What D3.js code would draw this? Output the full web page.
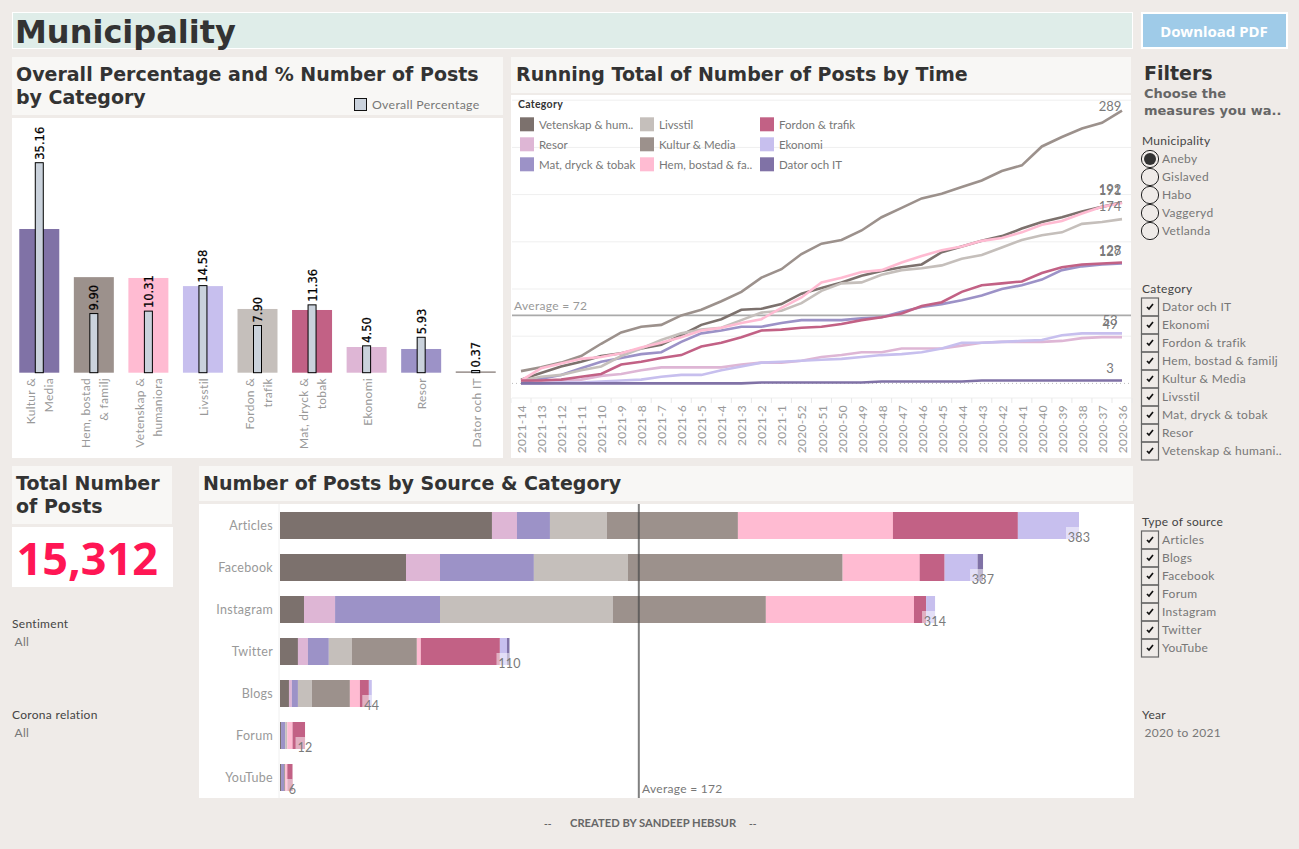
<!DOCTYPE html>
<html><head><meta charset="utf-8">
<script src="https://cdn.jsdelivr.net/npm/d3@7/dist/d3.min.js"></script>
<style>
html,body{margin:0;padding:0;background:#EFEBE8;overflow:hidden}
svg{display:block}
text{font-family:Lato,"Open Sans",sans-serif;letter-spacing:.3px}
.h{font-family:"DejaVu Sans",sans-serif;font-weight:700;letter-spacing:0}
.n{letter-spacing:0}
</style></head><body><svg id="c" width="1299" height="849"></svg>
<script>
const colors={"Vetenskap & humaniora":"#7C716D","Resor":"#DEB6D5","Mat, dryck & tobak":"#9C92C7","Livsstil":"#C5BFBB","Kultur & Media":"#9C918C","Hem, bostad & familj":"#FFBBD2","Fordon & trafik":"#C26185","Ekonomi":"#C7BFEE","Dator och IT":"#8072A6"};
const seriesOrder=["Vetenskap & humaniora","Resor","Mat, dryck & tobak","Livsstil","Kultur & Media","Hem, bostad & familj","Fordon & trafik","Ekonomi","Dator och IT"];
const legendLabels=["Vetenskap & hum..","Resor","Mat, dryck & tobak","Livsstil","Kultur & Media","Hem, bostad & fa..","Fordon & trafik","Ekonomi","Dator och IT"];

// top-left chart
const pctCats=["Kultur & Media","Hem, bostad & familj","Vetenskap & humaniora","Livsstil","Fordon & trafik","Mat, dryck & tobak","Ekonomi","Resor","Dator och IT"];
const pctLabels=[["Kultur &","Media"],["Hem, bostad","& familj"],["Vetenskap &","humaniora"],["Livsstil"],["Fordon &","trafik"],["Mat, dryck &","tobak"],["Ekonomi"],["Resor"],["Dator och IT"]];
const pctBarColorKeys=["Dator och IT","Kultur & Media","Hem, bostad & familj","Ekonomi","Livsstil","Fordon & trafik","Resor","Mat, dryck & tobak","Vetenskap & humaniora"];
const pctPosts=[24.06,16.0,15.86,14.5,10.67,10.5,4.3,3.97,0.2];
const overallPct=[35.16,9.90,10.31,14.58,7.90,11.36,4.50,5.93,0.37];

// running totals
const weeks=["2021-14","2021-13","2021-12","2021-11","2021-10","2021-9","2021-8","2021-7","2021-6","2021-5","2021-4","2021-3","2021-2","2021-1","2020-52","2020-51","2020-50","2020-49","2020-48","2020-47","2020-46","2020-45","2020-44","2020-43","2020-42","2020-41","2020-40","2020-39","2020-38","2020-37","2020-36"];
const runVetenskap=[4,11,18,23,29,32,37,41,51,62,68,78,79,84,95,101,107,114,119,123,126,139,145,151,156,164,171,176,182,187,192];
const runResor=[2,3,3,4,8,10,14,17,17,17,17,20,22,22,24,28,30,33,33,37,37,37,40,43,44,44,44,45,48,49,49];
const runMat=[1,5,9,16,23,27,31,33,44,53,56,60,60,64,67,67,67,69,70,76,81,84,88,93,100,104,110,120,124,126,127];
const runLivsstil=[3,7,9,14,18,29,37,46,53,57,59,67,75,77,85,98,106,107,115,120,122,125,132,136,144,152,157,160,169,171,174];
const runKultur=[13,17,22,29,42,54,60,62,72,78,87,97,112,121,137,148,152,162,176,186,196,201,208,215,225,231,251,261,270,276,289];
const runHem=[3,16,21,26,28,32,38,43,49,56,59,64,68,80,91,107,112,118,120,128,135,141,145,151,154,160,168,172,180,187,191];
const runFordon=[3,3,4,7,10,20,23,27,30,39,43,49,56,57,59,60,63,67,70,74,82,86,97,104,106,108,117,123,126,127,128];
const runEkonomi=[0,0,1,1,2,3,4,7,9,9,14,18,22,23,24,25,26,28,30,31,33,37,43,43,44,45,46,51,53,53,53];
const runDator=[0,0,0,0,0,0,0,0,0,0,0,0,1,1,1,1,1,1,2,2,2,2,2,3,3,3,3,3,3,3,3];
const runSeries=[runVetenskap,runResor,runMat,runLivsstil,runKultur,runHem,runFordon,runEkonomi,runDator];
const runAverage=72;
const yTicks=[0,50,100,150,200,250,300];

// stacked bars: columns follow seriesOrder
const sources=["Articles","Facebook","Instagram","Twitter","Blogs","Forum","YouTube"];
const srcVetenskap=[101.6,60.4,11.5,8.6,4.3,0.5,0.5];
const srcResor=[12,16.3,14.9,4.8,1.4,0,0];
const srcMat=[15.8,45,50.3,10,2.9,2,1.5];
const srcLivsstil=[27.3,45,82.9,11,6.7,1,0];
const srcKultur=[62.8,103,73.3,31.2,18.2,0,0.5];
const srcHem=[74.3,36.9,71,1.9,4.8,2.5,1];
const srcFordon=[59.9,12,5.8,37.9,4.3,6,2.5];
const srcEkonomi=[29.3,15.8,4.3,3.4,1.4,0,0];
const srcDator=[0,2.6,0,1.2,0,0,0];
const srcSeries=[srcVetenskap,srcResor,srcMat,srcLivsstil,srcKultur,srcHem,srcFordon,srcEkonomi,srcDator];
const srcTotals=[383,337,314,110,44,12,6];
const srcAverage=172;

const municipalities=["Aneby","Gislaved","Habo","Vaggeryd","Vetlanda"];
const filterCats=["Dator och IT","Ekonomi","Fordon & trafik","Hem, bostad & familj","Kultur & Media","Livsstil","Mat, dryck & tobak","Resor","Vetenskap & humani.."];
const sourceFilter=["Articles","Blogs","Facebook","Forum","Instagram","Twitter","YouTube"];

const svg=d3.select("#c");
const GREY="#999";
function rect(x,y,w,h,f){return svg.append("rect").attr("x",x).attr("y",y).attr("width",w).attr("height",h).attr("fill",f);}
function txt(x,y,s,size,fill,extra){const t=svg.append("text").attr("x",x).attr("y",y).text(s).attr("font-size",size).attr("fill",fill);if(extra)t.attr("class",extra);return t;}

// header
rect(12.5,12.5,1120,36,"#DFEDE9").attr("stroke","#fff").attr("stroke-width",1);
txt(15,43,"Municipality",32,"#333","h");
rect(1142,13,145,35,"#9FCBE8").attr("stroke","#fff").attr("stroke-width",2);
txt(1214,37,"Download PDF",15,"#fff","n").attr("text-anchor","middle").style("font-family","Noto Sans").style("font-weight",700);

// panels
rect(12,57,491,58,"#F8F7F5"); rect(12,118,491,340,"#fff");
rect(511,57,620,36,"#F8F7F5"); rect(511,95,620,363,"#fff");
rect(12,466,160,58,"#F8F7F5"); rect(12,527,161,60,"#fff");
rect(199,466,934,35,"#F8F7F5"); rect(199,504,935,294,"#fff");

// titles
txt(16,81,"Overall Percentage and % Number of Posts",19,"#333","h");
txt(16,104,"by Category",19,"#333","h");
txt(516,81,"Running Total of Number of Posts by Time",19,"#333","h");
txt(16,490,"Total Number",19,"#333","h");
txt(16,513,"of Posts",19,"#333","h");
txt(203,490,"Number of Posts by Source & Category",19,"#333","h");
txt(16.5,575,d3.format(",")(15312),45,"#FF1654","n").style("font-family","Noto Sans").style("font-weight",700);

// legend overall
rect(354.5,98.5,12,12,"#CAD2DC").attr("stroke","#111").attr("stroke-width",1);
txt(372,109,"Overall Percentage",12.3,"#777");

// ---- percentage chart
const xP=d3.scaleBand().domain(pctCats).range([12,503]).paddingInner(.267).paddingOuter(.1335);
const yP=d3.scaleLinear().domain([0,35.16]).range([372.7,162.7]);
svg.append("g").selectAll("rect").data(pctCats).join("rect")
 .attr("x",d=>xP(d)).attr("width",xP.bandwidth())
 .attr("y",(d,i)=>yP(pctPosts[i])).attr("height",(d,i)=>yP(0)-yP(pctPosts[i]))
 .attr("fill",(d,i)=>colors[pctBarColorKeys[i]]);
svg.append("g").selectAll("rect").data(pctCats).join("rect")
 .attr("x",d=>xP(d)+xP.bandwidth()/2-4).attr("width",8)
 .attr("y",(d,i)=>yP(overallPct[i])).attr("height",(d,i)=>yP(0)-yP(overallPct[i]))
 .attr("fill","#CAD2DC").attr("stroke","#000").attr("stroke-width",1);
svg.append("g").selectAll("text").data(pctCats).join("text").attr("class","n")
 .attr("transform",(d,i)=>`translate(${xP(d)+xP.bandwidth()/2+4.5},${yP(overallPct[i])-3}) rotate(-90)`)
 .text((d,i)=>overallPct[i].toFixed(2))
 .attr("font-size",11.5).attr("fill","#000").style("font-family","DejaVu Sans").attr("stroke","#000").attr("stroke-width",.25);
pctCats.forEach((c,i)=>{
  const ls=pctLabels[i],cx=xP(c)+xP.bandwidth()/2;
  ls.forEach((l,j)=>{
    const off=ls.length===2?(j===0?-9:9):0;
    svg.append("text").attr("transform",`translate(${cx+off+5},378) rotate(-90)`).attr("text-anchor","end").text(l).attr("font-size",12).attr("fill",GREY);
  });
});

// ---- line chart
const xL=d3.scalePoint().domain(weeks).range([521,1122]);
const yL=d3.scaleLinear().domain([0,300]).range([383.4,100.2]);
const gg=svg.append("g");
gg.selectAll("line").data(yTicks.filter(d=>d>0)).join("line").attr("x1",512).attr("x2",1131).attr("y1",d=>yL(d)).attr("y2",d=>yL(d)).attr("stroke","#efefef");
gg.append("line").attr("x1",512).attr("x2",1131).attr("y1",yL(0)).attr("y2",yL(0)).attr("stroke","#bbb").attr("stroke-dasharray","1 3");
const step=xL.step();
gg.append("line").attr("x1",512).attr("x2",1131).attr("y1",398).attr("y2",398).attr("stroke","#efefef");
gg.selectAll("line.t").data(d3.range(weeks.length+1)).join("line").attr("class","t")
 .attr("x1",i=>521+(i-.5)*step).attr("x2",i=>521+(i-.5)*step).attr("y1",398).attr("y2",403).attr("stroke","#e8e8e8");
const line=d3.line().x((d,i)=>xL(weeks[i])).y(d=>yL(d));
svg.append("line").attr("x1",512).attr("x2",1131).attr("y1",yL(runAverage)).attr("y2",yL(runAverage)).attr("stroke","#aaa").attr("stroke-width",1.8);
txt(514,310,"Average = "+runAverage,12,GREY);
svg.append("g").selectAll("path").data(runSeries).join("path").attr("d",line).attr("fill","none").attr("stroke",(d,i)=>colors[seriesOrder[i]]).attr("stroke-width",2.6);
svg.append("g").selectAll("text").data(runSeries).join("text").attr("class","n")
 .attr("x",1110).attr("y",d=>Math.max(yL(d[d.length-1])-8,111)).attr("text-anchor","middle")
 .text(d=>d[d.length-1]).attr("font-size",13).attr("fill","#7a7a7a");
svg.append("g").selectAll("text").data(weeks).join("text")
 .attr("transform",d=>`translate(${xL(d)+5},405) rotate(-90)`).attr("text-anchor","end")
 .text(d=>d).attr("font-size",12).attr("fill",GREY);
// line legend
txt(518,108,"Category",10.5,"#333").style("font-weight",700);
seriesOrder.forEach((s,i)=>{
  const col=Math.floor(i/3),row=i%3,x=520+col*120,y=117.3+row*20;
  rect(x,y,14,14,colors[s]);
  txt(x+19,y+12,legendLabels[i],11.5,"#777","n");
});

// ---- stacked bars
const xB=d3.scaleLinear().domain([0,383]).range([280,1079]);
const yB=d3.scaleBand().domain(sources).range([504.5,798.5]).paddingInner(15/42).paddingOuter(15/84);
const stackData=sources.map((s,i)=>{const o={source:s};seriesOrder.forEach((c,k)=>o[c]=srcSeries[k][i]);return o;});
const stacked=d3.stack().keys(seriesOrder)(stackData);
svg.append("g").selectAll("g").data(stacked).join("g").attr("fill",d=>colors[d.key])
 .selectAll("rect").data(d=>d).join("rect")
 .attr("x",d=>xB(d[0])).attr("width",d=>xB(d[1])-xB(d[0]))
 .attr("y",d=>yB(d.data.source)).attr("height",yB.bandwidth());
svg.append("line").attr("x1",279).attr("x2",279).attr("y1",504).attr("y2",798).attr("stroke","#f0f0f0");
sources.forEach((s,i)=>{
  txt(273,yB(s)+yB.bandwidth()/2+4.5,s,12.5,GREY).attr("text-anchor","end");
  const e=xB(srcTotals[i]),d=String(srcTotals[i]).length,bottom=yB(s)+yB.bandwidth();
  rect(e-3.5*d-2.5,bottom-12,3.5*d+2.5,12,"#fff").attr("opacity",.5);
  txt(e,bottom+3,srcTotals[i],12.5,"#7a7a7a").attr("text-anchor","middle");
});
svg.append("line").attr("x1",xB(srcAverage)).attr("x2",xB(srcAverage)).attr("y1",504).attr("y2",798).attr("stroke","#4a4a4a").attr("stroke-opacity",.7).attr("stroke-width",2);
txt(642,793,"Average = "+srcAverage,12,"#777");

// ---- left filters
txt(12,628,"Sentiment",12,"#444");
txt(14.5,646,"All",12,"#777");
txt(12,719,"Corona relation",12,"#444");
txt(14.5,737,"All",12,"#777");

// ---- right filters
txt(1144,80,"Filters",19,"#333","h");
txt(1144,98,"Choose the",13,"#666","h");
txt(1144,115,"measures you wa..",13,"#666","h");
txt(1142,145,"Municipality",12,"#444");
municipalities.forEach((m,i)=>{
  const y=159+i*18;
  svg.append("circle").attr("cx",1150).attr("cy",y).attr("r",8.6).attr("fill","none").attr("stroke","#222");
  if(i===0)svg.append("circle").attr("cx",1150).attr("cy",y).attr("r",6).attr("fill","#333");
  txt(1162,y+4,m,12,"#777");
});
function checks(title,items,y0){
  txt(1142,y0-14,title,12,"#444");
  items.forEach((m,i)=>{
    const y=y0+i*18;
    svg.append("rect").attr("x",1141.5).attr("y",y-9).attr("width",17).attr("height",18).attr("fill","none").attr("stroke","#666").attr("stroke-width",1.2);
    svg.append("path").attr("d",`M${1147},${y} l2,2 l4,-5`).attr("fill","none").attr("stroke","#111").attr("stroke-width",1.7);
    txt(1162,y+4,m,12,"#777");
  });
}
checks("Category",filterCats,307);
checks("Type of source",sourceFilter,540);
txt(1142,719,"Year",12,"#444");
txt(1144.5,737,"2020 to 2021",12,"#777");

// footer
txt(544,827,"--",10,"#666","n").style("font-weight",700);
txt(570,827,"CREATED BY SANDEEP HEBSUR",11.2,"#666","n").style("font-weight",700);
txt(749,827,"--",10,"#666","n").style("font-weight",700);
</script></body></html>
